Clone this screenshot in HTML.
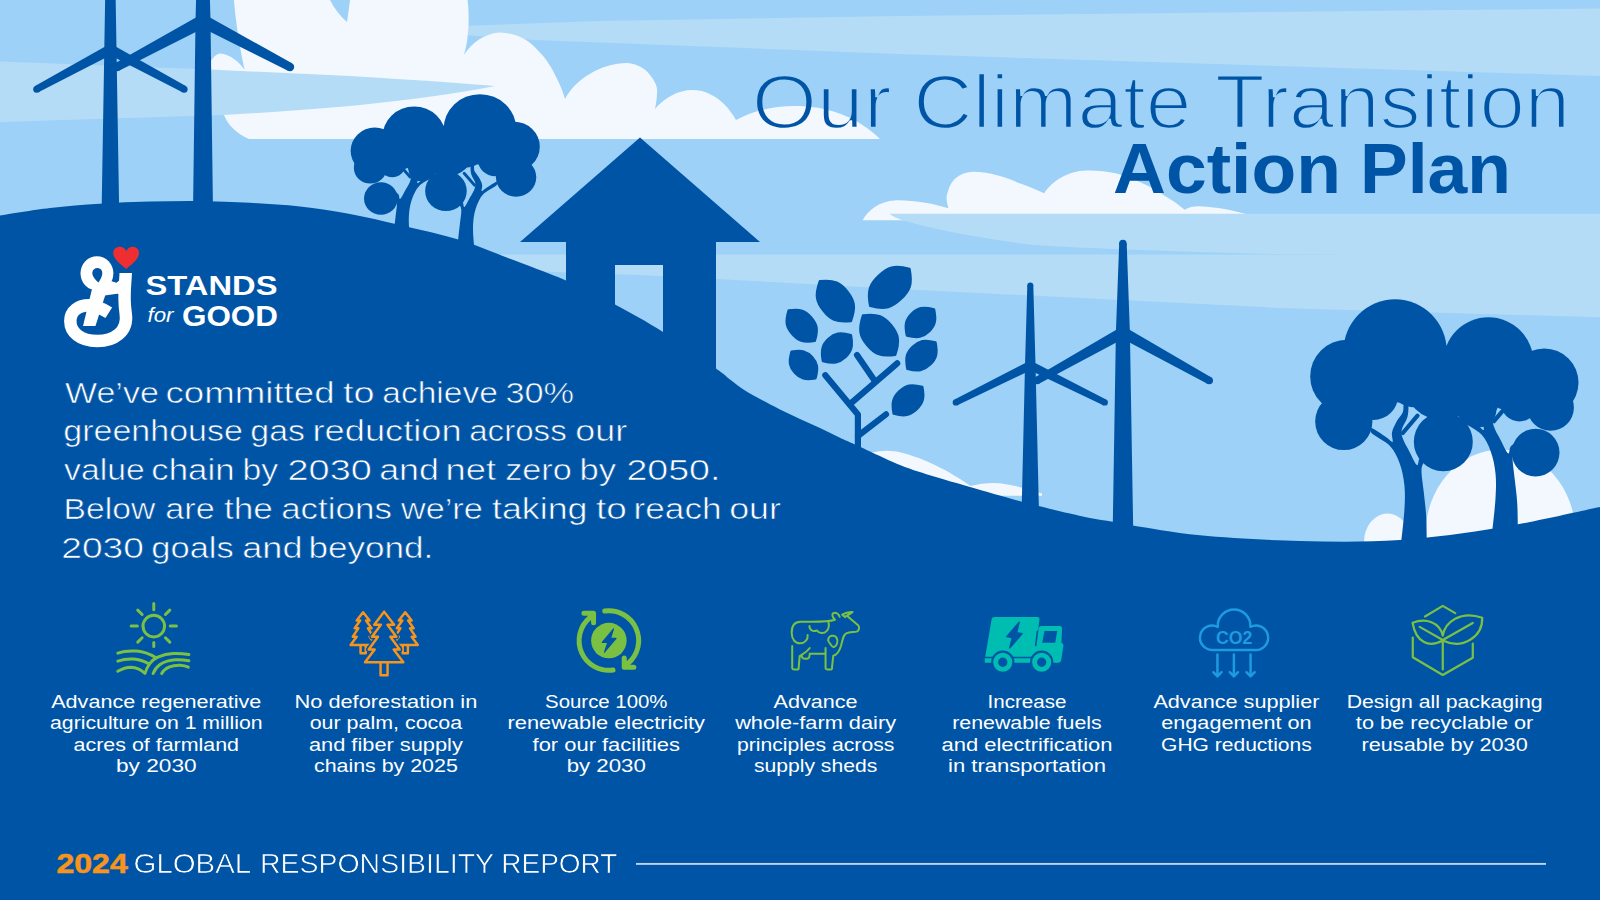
<!DOCTYPE html>
<html lang="en">
<head>
<meta charset="utf-8">
<title>Our Climate Transition Action Plan</title>
<style>
html,body{margin:0;padding:0;background:#0054A6;}
body{width:1600px;height:900px;overflow:hidden;font-family:"Liberation Sans",sans-serif;}
svg{display:block;}
text{font-family:"Liberation Sans",sans-serif;}
</style>
</head>
<body>
<svg width="1600" height="900" viewBox="0 0 1600 900" font-family="'Liberation Sans', sans-serif">
<defs><g id="tree"><circle cx="1395.1" cy="350.9" r="51.6"/><circle cx="1346.9" cy="376.4" r="36.7"/><circle cx="1343.8" cy="421.5" r="28.6"/><circle cx="1488.4" cy="362.4" r="45.1"/><circle cx="1544.3" cy="382.6" r="34.2"/><circle cx="1550.6" cy="407.5" r="23.3"/><circle cx="1443.3" cy="441.7" r="29.5"/><circle cx="1535.6" cy="452.6" r="23.9"/><circle cx="1441.7" cy="382.6" r="37.3"/><circle cx="1373.3" cy="395.1" r="24.9"/><circle cx="1519.5" cy="402.8" r="18.7"/><circle cx="1472.8" cy="404.4" r="18.7"/><circle cx="1510.1" cy="382.6" r="28"/><circle cx="1416.8" cy="373.3" r="34.2"/><circle cx="1479" cy="410" r="17.4"/><path d="M1400.7,547.4 C1401.3,541.2 1403.8,520.5 1404.4,510.1 C1405,499.8 1405.2,493 1404.4,485.2 C1403.6,477.5 1402.1,470 1399.7,463.5 C1397.4,457 1394.8,451.2 1390.4,446.4 C1386,441.6 1376.7,437.4 1373.3,434.6 C1369.9,431.7 1370.2,430.3 1370.2,429.3 C1370.2,428.3 1370.4,427.2 1373.3,428.7 C1376.1,430.1 1384.1,435.8 1387.3,438 C1390.5,440.2 1391.8,442.6 1392.6,441.7 C1393.4,440.8 1391.3,435.8 1392,432.4 C1392.6,429 1394.8,424.9 1396.6,421.5 C1398.4,418.1 1401.6,415 1402.8,412.2 C1404,409.3 1402.9,405.7 1403.8,404.4 C1404.7,403.1 1407.5,402.3 1408.1,404.4 C1408.7,406.5 1408.5,412.7 1407.5,416.8 C1406.5,421 1402.7,425.6 1401.9,429.3 C1401.1,432.9 1401.6,435 1402.8,438.6 C1404,442.2 1406.7,446.6 1409.1,451 C1411.4,455.4 1415.1,463.7 1416.8,465 C1418.5,466.3 1418.2,460.4 1419.3,458.8 C1420.5,457.3 1422.8,455.4 1423.7,455.7 C1424.6,456 1425,458 1424.6,460.4 C1424.2,462.7 1421.7,464.5 1421.5,469.7 C1421.3,474.9 1422.9,483.7 1423.7,491.5 C1424.5,499.2 1425.6,507 1426.2,516.3 C1426.7,525.7 1426.7,542.3 1426.8,547.4 Z"/><path d="M1491.8,535.6 C1492.4,529.4 1494.9,508.7 1495.5,498.3 C1496.1,487.9 1496.3,481.2 1495.5,473.4 C1494.7,465.7 1493.2,458.1 1490.8,451.7 C1488.5,445.2 1485.9,439.4 1481.5,434.6 C1477.1,429.7 1467.8,425.6 1464.4,422.7 C1461,419.9 1461.3,418.4 1461.3,417.5 C1461.3,416.5 1461.6,415.4 1464.4,416.8 C1467.3,418.3 1475.2,424 1478.4,426.2 C1481.6,428.3 1482.9,430.8 1483.7,429.9 C1484.5,429 1482.4,423.9 1483.1,420.6 C1483.7,417.2 1485.9,413 1487.7,409.7 C1489.6,406.3 1492.8,403.2 1494,400.4 C1495.1,397.5 1494,393.9 1494.9,392.6 C1495.8,391.3 1498.6,390.5 1499.2,392.6 C1499.9,394.6 1499.7,400.9 1498.6,405 C1497.6,409.2 1493.8,413.8 1493,417.5 C1492.2,421.1 1492.8,423.2 1494,426.8 C1495.1,430.4 1497.8,434.8 1500.2,439.2 C1502.5,443.6 1506.2,451.9 1508,453.2 C1509.7,454.5 1509.3,448.6 1510.4,447 C1511.6,445.4 1513.9,443.6 1514.8,443.9 C1515.7,444.1 1516.1,446.2 1515.7,448.6 C1515.4,450.9 1512.8,452.7 1512.6,457.9 C1512.5,463.1 1514,471.9 1514.8,479.7 C1515.6,487.4 1516.8,495.2 1517.3,504.5 C1517.8,513.9 1517.8,530.4 1517.9,535.6 Z"/><path d="M1402.8,433 L1417.5,415.6" stroke="#0054A6" stroke-width="4.2" stroke-linecap="round"/><path d="M1494,421.2 L1508.6,403.8" stroke="#0054A6" stroke-width="4.2" stroke-linecap="round"/></g>
<mask id="thin" maskUnits="userSpaceOnUse" x="700" y="40" width="900" height="120"><text x="751.8" y="128" font-size="75.4" textLength="139.8" lengthAdjust="spacingAndGlyphs" fill="#fff" stroke="#000" stroke-width="2.5">Our</text><text x="913.3" y="128" font-size="75.4" textLength="278.2" lengthAdjust="spacingAndGlyphs" fill="#fff" stroke="#000" stroke-width="2.5">Climate</text><text x="1215" y="128" font-size="75.4" textLength="355.2" lengthAdjust="spacingAndGlyphs" fill="#fff" stroke="#000" stroke-width="2.5">Transition</text></mask>
<mask id="thin2" maskUnits="userSpaceOnUse" x="100" y="840" width="560" height="50"><text x="133.6" y="872.6" font-size="27.6" textLength="117.5" lengthAdjust="spacingAndGlyphs" fill="#fff" stroke="#000" stroke-width="0.45">GLOBAL</text><text x="260" y="872.6" font-size="27.6" textLength="234" lengthAdjust="spacingAndGlyphs" fill="#fff" stroke="#000" stroke-width="0.45">RESPONSIBILITY</text><text x="501.3" y="872.6" font-size="27.6" textLength="116" lengthAdjust="spacingAndGlyphs" fill="#fff" stroke="#000" stroke-width="0.45">REPORT</text></mask>
</defs>
<rect width="1600" height="900" fill="#9DD1F7"/>
<path fill="#B4DCF7" d="M462,26 L600,21 L900,16 L1600,8.4 L1600,76 L900,54 L600,42.5 L535,40 L462,35 Z"/>
<path fill="#F2F8FE" d="M249,139 C236,133 228,125 224,115 C216,100 210,85 208,70 C210,60 215,54 220,53.5 C230,54 239,62 244.8,69.8 C241,55 236,25 233.9,0 L330,0 C334,8 340,16 347,22 C348,15 349,8 350,0 L467.5,0 C469,10 470,35 464,55 C472,42 486,33 500,32.5 C516,33 529,40 537.5,50 C546,58 553,70 555,75 C560,84 563,92 565,99 C575,80 600,63 627.5,63 C637,64 645,68 650,75 C655,81 658,88 657,92.5 C657,98 656,104 655,109 C664,98 678,90 692.5,90 C705,90 716,96 725,105 C729,109 733,115 736,120 C752,111 775,105 800,106 C825,107 846,114 862.5,125 C869,129 875,134 880,139 Z"/>
<path fill="#B4DCF7" d="M0,61.5 L210,69.5 L350,76 Q450,82 495,86 Q440,97 350,106 Q280,112 224,115 L0,122 Z"/>
<path fill="#F2F8FE" d="M862.6,220.3 C868,210 880,201 894.6,200.4 C915,200 934,204 948.4,208.3 C946,200 946,196 948.4,190 C951,180 960,172 973.4,171.8 C990,172 1005,177 1018,182.8 C1028,186 1037,190 1044.2,193.3 C1052,181 1068,171 1086.2,170.5 C1106,170 1124,174 1138.7,181.5 C1149,186 1158,191 1165,196 C1172,200 1179,205 1184.6,209.8 C1189,207 1195,206 1201.7,206.4 C1217,207 1232,210 1245,213.8 L1245,220.3 Z"/>
<path fill="#B4DCF7" d="M889.4,213.8 L1600,213.8 L1600,256 L1345,256 L1338,254.5 L1270,253.9 Q1112,250 1033.7,245 Q955,235.3 902.5,220.3 Q893,217 889.4,213.8 Z"/>
<path fill="#B4DCF7" d="M470,254.5 L1600,254.5 L1600,317.3 L1280,308 L900,289 L716,279 L640,275 L566,272.5 L470,268 Z"/>
<path fill="#F2F8FE" d="M872,452.5 Q884,449.5 895,451.3 C915,455 942,466 970.5,486 Q985,482 1000,483.3 Q1020,486 1042,493.5 L1042,495.75 L992,495.75 L980,500 L872,458 Z"/>
<ellipse cx="1500.5" cy="534.5" rx="75" ry="85" fill="#F2F8FE"/>
<ellipse cx="1387.5" cy="542" rx="23.5" ry="28.5" fill="#F2F8FE"/>
<g fill="#0054A6"><path d="M0,215.5 C8.3,214.2 33.3,210 50,208 C66.7,206 83.3,204.8 100,203.7 C116.7,202.6 133.3,201.9 150,201.5 C166.7,201.1 183.3,200.8 200,201 C216.7,201.2 233.3,201.9 250,202.8 C266.7,203.7 283.3,204.6 300,206.5 C316.7,208.4 333.3,210.9 350,214 C366.7,217.1 381.7,220.7 400,225 C418.3,229.3 442,234.5 460,240 C478,245.5 490.3,251.2 508,258 C525.7,264.8 548.2,272.8 566,280.5 C583.8,288.2 598.8,295.9 615,304.5 C631.2,313.1 646.2,321.3 663,332 C679.8,342.7 704.8,360.6 716,368.5 C727.2,376.4 725.2,375.8 730,379.5 C734.8,383.2 740,387.2 745,390.5 C750,393.8 754.2,395.8 760,399 C765.8,402.2 773.3,406.2 780,409.5 C786.7,412.8 793.3,415.9 800,419 C806.7,422.1 813.3,424.9 820,428 C826.7,431.1 834.2,435.1 840,437.8 C845.8,440.6 845,440 855,444.5 C865,449 886.7,459.6 900,465 C913.3,470.4 923.3,473.1 935,476.8 C946.7,480.5 955.5,482.8 970,487 C984.5,491.2 1010.6,498.6 1022,501.8 C1033.4,505 1030.5,504 1038.5,506 C1046.5,508 1061.4,511.6 1070,513.6 C1078.6,515.6 1082.9,516.6 1090,518 C1097.1,519.4 1105.4,520.5 1112.5,521.8 C1119.6,523 1117.9,523.3 1132.5,525.5 C1147.1,527.7 1172.1,532.6 1200,535.2 C1227.9,537.8 1266.7,540.2 1300,541 C1333.3,541.8 1366.7,542.2 1400,540 C1433.3,537.8 1466.7,533.1 1500,527.6 C1533.3,522.1 1583.3,510.4 1600,507 L1600,900 L0,900 Z"/><polygon points="105.2,-5 115.6,-5 116.5,49.5 119.2,212 101.6,212 104.3,49.5"/><polygon points="107.9,44.9 35,86.1 38.4,92.3 112.9,54.1"/><circle cx="36.7" cy="89.2" r="3.5"/><polygon points="107.9,54.1 182.4,92.3 185.8,86.1 112.9,44.9"/><circle cx="184.1" cy="89.2" r="3.5"/><polygon points="196.2,-5 209.8,-5 210.5,21 213,212 193,212 195.5,21"/><polygon points="199.9,15.3 115,63.3 119,70.7 206.1,26.7"/><circle cx="117" cy="67" r="4.2"/><polygon points="200,26.7 288,70.8 292,63.2 206,15.3"/><circle cx="290" cy="67" r="4.2"/><polygon points="1027.3,285.5 1033.3,285.5 1035.5,365.4 1039,512 1021.6,512 1025,365.4"/><circle cx="1030.3" cy="285.5" r="3"/><polygon points="1028.3,361.4 954.5,399.5 957.3,405.3 1032.3,369.4"/><circle cx="955.9" cy="402.4" r="3.2"/><polygon points="1028.3,369.4 1103.3,405.3 1106.1,399.5 1032.3,361.4"/><circle cx="1104.7" cy="402.4" r="3.2"/><polygon points="1119.2,243.5 1126.7,243.5 1129.9,332.6 1133.2,530 1112.7,530 1115.9,332.6"/><circle cx="1122.9" cy="243.5" r="3.8"/><polygon points="1120.1,327.6 1035.1,377.2 1038.9,383.8 1125.7,337.6"/><circle cx="1037" cy="380.5" r="3.8"/><polygon points="1120.1,337.6 1207.4,383.8 1211,377.2 1125.7,327.6"/><circle cx="1209.2" cy="380.5" r="3.8"/><polygon points="640,137.5 760,242 520,242"/><path fill-rule="evenodd" d="M566,240 H716 V420 H566 Z M615,265 H663 V345 H615 Z"/><g fill="none" stroke="#0054A6" stroke-width="6.2" stroke-linecap="round" stroke-linejoin="round"><path d="M857.9,450 V414.5 L825.3,375.2 M851.4,402.8 L897.2,363.3 M873.6,379.2 L857,355 M857.9,436 L886,414.4"/></g><g stroke="#0054A6" stroke-width="2.4" stroke-linejoin="round"><path d="M819.8,281.3 C814.7,295.5 816.5,301.8 823.4,310.5 C830.2,319.3 835.9,322.6 850.9,321 C856.1,306.7 854.2,300.5 847.4,291.7 C840.5,283 834.8,279.7 819.8,281.3 Z"/><path d="M909.5,268.9 C893.9,264.7 887.6,267.6 878.9,275.7 C870.2,283.8 867,290 870.2,305.9 C885.9,310 892.2,307.2 900.9,299 C909.5,290.9 912.7,284.8 909.5,268.9 Z"/><path d="M788.6,310.5 C785,322.1 786.4,327.3 792.2,334 C798,340.6 802.9,342.7 814.8,340.9 C818.4,329.4 817,324.1 811.2,317.5 C805.4,310.8 800.4,308.7 788.6,310.5 Z"/><path d="M863,315.5 C858.2,330 860,336.4 867.1,345 C874.2,353.7 880.1,356.8 895.2,354.9 C900.1,340.4 898.3,334 891.2,325.3 C884.1,316.7 878.2,313.6 863,315.5 Z"/><path d="M934,309.3 C923,306.6 917.7,307.7 911.8,313.5 C905.8,319.3 904.5,324.5 906.9,335.6 C917.9,338.3 923.2,337.1 929.1,331.4 C935.1,325.6 936.4,320.4 934,309.3 Z"/><path d="M791.5,351.8 C788.6,362.1 789.6,367 794.8,372.8 C800.1,378.6 804.9,380.1 815.5,378.2 C818.4,367.9 817.4,363 812.1,357.1 C806.9,351.3 802,349.9 791.5,351.8 Z"/><path d="M850.9,335.1 C839.9,332.1 834.6,333.3 828.5,339 C822.3,344.7 820.8,349.8 822.9,361.1 C834,364.1 839.2,362.9 845.4,357.2 C851.5,351.5 853.1,346.4 850.9,335.1 Z"/><path d="M935.5,342.4 C924.3,339.5 919.1,340.8 912.9,346.6 C906.7,352.4 905.1,357.5 907.4,368.9 C918.6,371.8 923.8,370.5 930,364.7 C936.2,358.9 937.8,353.8 935.5,342.4 Z"/><path d="M922.3,386.9 C910.9,383.9 905.8,385.3 899.5,391.2 C893.2,397.1 891.4,402.1 893.7,413.7 C905,416.7 910.2,415.3 916.5,409.4 C922.8,403.5 924.6,398.4 922.3,386.9 Z"/></g><use href="#tree"/><use href="#tree" transform="translate(480,128) scale(-0.705,0.68) translate(-1395,-349)"/></g>
<g transform="translate(55,240) scale(0.12449)"><ellipse cx="337" cy="268" rx="132" ry="137" fill="#fff"/><polygon fill="#fff" points="308,350 420,392 325,690 225,690"/><polygon fill="#fff" points="300,380 455,332 493,344 522,322 605,322 602,445 500,432 398,446"/><path fill="none" stroke="#fff" stroke-width="100" stroke-linecap="butt" d="M568,266 C568,330 545,440 568,590 C590,740 470,812 340,812 C200,810 123,740 123,650 C123,570 190,524 275,524 C335,524 385,555 432,585"/><path fill="#0054A6" d="M350,342 C322,320 298,292 300,262 C302,236 322,224 342,225 C366,226 383,246 380,272 C377,300 362,322 350,342 Z"/></g>
<path transform="translate(55,240) scale(0.12449)" fill="#EE2E30" d="M572,232 C520,190 468,150 468,105 C468,75 492,55 520,55 C545,55 565,70 572,90 C580,70 600,55 625,55 C652,55 675,75 675,105 C675,150 625,190 572,232 Z"/>
<g transform="translate(100,590) scale(0.11111)" fill="none" stroke="#7AC143" stroke-width="27" stroke-linecap="round" stroke-linejoin="round"><circle cx="484" cy="325" r="97"/><path d="M484,177 L484,121 M588.7,220.3 L628.2,180.8 M632,325 L688,325 M588.7,429.7 L628.2,469.2 M484,473 L484,509 M379.3,429.7 L339.8,469.2 M336,325 L280,325 M379.3,220.3 L339.8,180.8"/><path d="M160,568 C215,548 270,545 330,550 C395,556 455,580 505,610 M160,640 C205,625 255,620 300,622 C350,625 400,642 440,665 M160,732 C200,708 240,695 280,695 C325,696 370,718 405,750 C415,715 430,685 450,660 C470,635 492,618 520,605 C565,585 610,574 660,572 C710,570 760,574 800,580 M478,752 C490,718 512,690 540,670 C580,645 630,630 680,628 C722,627 765,630 800,637 M555,752 C570,725 592,707 620,695 C652,682 688,677 720,678 C748,680 775,686 795,695"/></g>
<g transform="translate(330,590) scale(0.11111)" fill="none" stroke="#F7941E" stroke-width="22" stroke-linejoin="round" stroke-linecap="round"><path d="M298,200 L240,275 L272,275 L222,345 L255,345 L205,420 L240,420 L185,495 L411,495 L356,420 L391,420 L341,345 L374,345 L324,275 L356,275 Z M275,495 V570 H322 V495"/><path transform="translate(379,0)" d="M298,200 L240,275 L272,275 L222,345 L255,345 L205,420 L240,420 L185,495 L411,495 L356,420 L391,420 L341,345 L374,345 L324,275 L356,275 Z M275,495 V570 H322 V495"/><path d="M487,195 L398,312 L458,312 L378,420 L432,420 L348,535 L402,535 L315,650 L660,650 L573,535 L627,535 L543,420 L597,420 L517,312 L577,312 Z" fill="#0054A6" stroke="#0054A6" stroke-width="48"/><path d="M487,195 L398,312 L458,312 L378,420 L432,420 L348,535 L402,535 L315,650 L660,650 L573,535 L627,535 L543,420 L597,420 L517,312 L577,312 Z M455,650 V768 H518 V650"/></g>
<g transform="translate(550,590) scale(0.11111)"><path fill="none" stroke="#7AC143" stroke-width="45" stroke-linecap="round" stroke-linejoin="round" d="M492.7,189.6 A268,268 0 0 1 702.3,660.3 M668,612 V695 H755 M567.3,720.4 A268,268 0 0 1 357.7,249.7 M305,210 H392 V295"/><circle cx="530" cy="455" r="160" fill="#7AC143"/><path fill="#0054A6" stroke="#0054A6" stroke-width="10" stroke-linejoin="round" d="M572,350 L470,472 L520,472 L490,560 L595,435 L545,435 Z"/></g>
<g transform="translate(765,590) scale(0.11111)" fill="none" stroke="#7AC143" stroke-width="18" stroke-linecap="round" stroke-linejoin="round"><path d="M630,268 C560,292 420,285 320,285 C262,285 240,330 240,385 C240,440 270,480 315,480 C358,480 388,445 384,405 M245,505 V705 Q248,716 262,716 H292 Q306,714 303,698 L312,595 C330,580 372,565 403,522 M330,592 C332,612 348,624 368,618 C388,622 402,610 402,580 M402,574 H545 M545,522 V705 Q548,716 562,716 H592 Q606,714 603,698 L614,592 C650,585 672,545 685,500 C700,440 705,400 735,388 C770,378 805,380 830,372 C850,360 852,330 838,318 L745,238 M630,268 C612,250 598,222 612,210 C635,198 665,210 672,242 M695,222 C730,200 760,195 788,198 C770,215 745,228 720,240 M700,228 L722,245 M400,325 C400,362 430,378 468,365 C485,392 530,398 556,368 C575,345 578,318 572,292 M600,412 C640,405 660,440 648,482 C640,512 612,522 598,500 C590,485 580,478 572,462 C562,440 575,418 600,412 Z"/></g>
<g transform="translate(965,590) scale(0.11111)"><path fill="#00BDB2" d="M265,243 H655 Q672,243 670,260 L642,500 L662,350 Q665,325 690,325 H850 Q875,325 873,350 L868,478 Q888,482 886,500 L866,630 Q862,655 838,655 H178 V615 L182,600 L240,260 Q243,243 265,243 Z"/><path fill="none" stroke="#0054A6" stroke-width="14" stroke-linecap="round" d="M652,372 L636,500"/><path fill="none" stroke="#0054A6" stroke-width="14" d="M170,608 H640"/><circle cx="340" cy="650" r="105" fill="#0054A6"/><circle cx="690" cy="650" r="105" fill="#0054A6"/><circle cx="340" cy="650" r="64" fill="none" stroke="#00BDB2" stroke-width="44"/><circle cx="690" cy="650" r="64" fill="none" stroke="#00BDB2" stroke-width="44"/><polygon fill="#0054A6" points="715,370 830,370 812,475 695,475"/><path fill="#0054A6" stroke="#0054A6" stroke-width="12" stroke-linejoin="round" d="M488,290 L375,420 L425,428 L402,522 L515,392 L465,384 Z"/></g>
<g transform="translate(1175,590) scale(0.11111)" fill="none" stroke="#1E9BE0" stroke-width="22" stroke-linecap="round" stroke-linejoin="round"><path d="M335,540 A110,110 0 1 1 385,332 A146.8,146.8 0 1 1 678,332 A110,110 0 1 1 727,540 Z"/><path d="M382,580 V775 M345,740 L382,778 L419,740 M530,580 V775 M493,740 L530,778 L567,740 M680,580 V775 M643,740 L680,778 L717,740"/></g>
<text x="1234.2" y="643.6" text-anchor="middle" font-weight="bold" font-size="17.6" fill="#1E9BE0" textLength="36.5" lengthAdjust="spacingAndGlyphs">CO2</text>
<g transform="translate(1385,590) scale(0.11111)" fill="none" stroke="#7AC143" stroke-width="20" stroke-linecap="round" stroke-linejoin="round"><path d="M360,238 L520,143 L632,208 M250,428 V605 L520,765 L790,610 V482 M520,715 V450 M520,455 C400,520 280,480 248,295 C370,250 490,290 520,410 C540,290 680,180 875,250 C880,420 700,540 520,455 M312,332 L520,450 L790,297"/></g>
<text x="751.8" y="128" font-size="75.4" textLength="139.8" lengthAdjust="spacingAndGlyphs" fill="#0054A6" mask="url(#thin)">Our</text>
<text x="913.3" y="128" font-size="75.4" textLength="278.2" lengthAdjust="spacingAndGlyphs" fill="#0054A6" mask="url(#thin)">Climate</text>
<text x="1215" y="128" font-size="75.4" textLength="355.2" lengthAdjust="spacingAndGlyphs" fill="#0054A6" mask="url(#thin)">Transition</text>
<text x="1113" y="193" font-size="69.8" textLength="228" lengthAdjust="spacingAndGlyphs" font-weight="bold" fill="#0054A6">Action</text>
<text x="1360" y="193" font-size="69.8" textLength="151" lengthAdjust="spacingAndGlyphs" font-weight="bold" fill="#0054A6">Plan</text>
<text x="145.5" y="294.7" font-size="28.3" textLength="132" lengthAdjust="spacingAndGlyphs" font-weight="bold" fill="#fff">STANDS</text>
<text x="182" y="325.8" font-size="29" textLength="96" lengthAdjust="spacingAndGlyphs" font-weight="bold" fill="#fff">GOOD</text>
<text x="147.5" y="322" font-size="20.7" textLength="26" lengthAdjust="spacingAndGlyphs" font-style="italic" fill="#fff">for</text>
<text x="65" y="402.5" font-size="29.8" textLength="93.8" lengthAdjust="spacingAndGlyphs" fill="#fff" stroke="#0054A6" stroke-width="0.6">We’ve</text>
<text x="165.4" y="402.5" font-size="29.8" textLength="169.2" lengthAdjust="spacingAndGlyphs" fill="#fff" stroke="#0054A6" stroke-width="0.6">committed</text>
<text x="343.1" y="402.5" font-size="29.8" textLength="31.6" lengthAdjust="spacingAndGlyphs" fill="#fff" stroke="#0054A6" stroke-width="0.6">to</text>
<text x="382.3" y="402.5" font-size="29.8" textLength="115.5" lengthAdjust="spacingAndGlyphs" fill="#fff" stroke="#0054A6" stroke-width="0.6">achieve</text>
<text x="505.4" y="402.5" font-size="29.8" textLength="68.7" lengthAdjust="spacingAndGlyphs" fill="#fff" stroke="#0054A6" stroke-width="0.6">30%</text>
<text x="63.3" y="441.2" font-size="29.8" textLength="179.6" lengthAdjust="spacingAndGlyphs" fill="#fff" stroke="#0054A6" stroke-width="0.6">greenhouse</text>
<text x="250.3" y="441.2" font-size="29.8" textLength="54.6" lengthAdjust="spacingAndGlyphs" fill="#fff" stroke="#0054A6" stroke-width="0.6">gas</text>
<text x="312.5" y="441.2" font-size="29.8" textLength="149.1" lengthAdjust="spacingAndGlyphs" fill="#fff" stroke="#0054A6" stroke-width="0.6">reduction</text>
<text x="469.2" y="441.2" font-size="29.8" textLength="97.5" lengthAdjust="spacingAndGlyphs" fill="#fff" stroke="#0054A6" stroke-width="0.6">across</text>
<text x="575.3" y="441.2" font-size="29.8" textLength="51.8" lengthAdjust="spacingAndGlyphs" fill="#fff" stroke="#0054A6" stroke-width="0.6">our</text>
<text x="64.1" y="480" font-size="29.8" textLength="80.6" lengthAdjust="spacingAndGlyphs" fill="#fff" stroke="#0054A6" stroke-width="0.6">value</text>
<text x="151.3" y="480" font-size="29.8" textLength="83.3" lengthAdjust="spacingAndGlyphs" fill="#fff" stroke="#0054A6" stroke-width="0.6">chain</text>
<text x="242.5" y="480" font-size="29.8" textLength="35.6" lengthAdjust="spacingAndGlyphs" fill="#fff" stroke="#0054A6" stroke-width="0.6">by</text>
<text x="287.5" y="480" font-size="29.8" textLength="84.3" lengthAdjust="spacingAndGlyphs" fill="#fff" stroke="#0054A6" stroke-width="0.6">2030</text>
<text x="379.2" y="480" font-size="29.8" textLength="59.8" lengthAdjust="spacingAndGlyphs" fill="#fff" stroke="#0054A6" stroke-width="0.6">and</text>
<text x="445.6" y="480" font-size="29.8" textLength="50.5" lengthAdjust="spacingAndGlyphs" fill="#fff" stroke="#0054A6" stroke-width="0.6">net</text>
<text x="505.2" y="480" font-size="29.8" textLength="66.6" lengthAdjust="spacingAndGlyphs" fill="#fff" stroke="#0054A6" stroke-width="0.6">zero</text>
<text x="579.5" y="480" font-size="29.8" textLength="36.5" lengthAdjust="spacingAndGlyphs" fill="#fff" stroke="#0054A6" stroke-width="0.6">by</text>
<text x="626.4" y="480" font-size="29.8" textLength="94" lengthAdjust="spacingAndGlyphs" fill="#fff" stroke="#0054A6" stroke-width="0.6">2050.</text>
<text x="63.6" y="518.8" font-size="29.8" textLength="91.6" lengthAdjust="spacingAndGlyphs" fill="#fff" stroke="#0054A6" stroke-width="0.6">Below</text>
<text x="165.3" y="518.8" font-size="29.8" textLength="49.4" lengthAdjust="spacingAndGlyphs" fill="#fff" stroke="#0054A6" stroke-width="0.6">are</text>
<text x="224" y="518.8" font-size="29.8" textLength="48.9" lengthAdjust="spacingAndGlyphs" fill="#fff" stroke="#0054A6" stroke-width="0.6">the</text>
<text x="281.2" y="518.8" font-size="29.8" textLength="110.7" lengthAdjust="spacingAndGlyphs" fill="#fff" stroke="#0054A6" stroke-width="0.6">actions</text>
<text x="401" y="518.8" font-size="29.8" textLength="81.8" lengthAdjust="spacingAndGlyphs" fill="#fff" stroke="#0054A6" stroke-width="0.6">we’re</text>
<text x="492" y="518.8" font-size="29.8" textLength="95.5" lengthAdjust="spacingAndGlyphs" fill="#fff" stroke="#0054A6" stroke-width="0.6">taking</text>
<text x="596" y="518.8" font-size="29.8" textLength="30.8" lengthAdjust="spacingAndGlyphs" fill="#fff" stroke="#0054A6" stroke-width="0.6">to</text>
<text x="633.6" y="518.8" font-size="29.8" textLength="88" lengthAdjust="spacingAndGlyphs" fill="#fff" stroke="#0054A6" stroke-width="0.6">reach</text>
<text x="729.2" y="518.8" font-size="29.8" textLength="51.8" lengthAdjust="spacingAndGlyphs" fill="#fff" stroke="#0054A6" stroke-width="0.6">our</text>
<text x="61.3" y="557.5" font-size="29.8" textLength="82.6" lengthAdjust="spacingAndGlyphs" fill="#fff" stroke="#0054A6" stroke-width="0.6">2030</text>
<text x="151.3" y="557.5" font-size="29.8" textLength="82.5" lengthAdjust="spacingAndGlyphs" fill="#fff" stroke="#0054A6" stroke-width="0.6">goals</text>
<text x="242.3" y="557.5" font-size="29.8" textLength="60.2" lengthAdjust="spacingAndGlyphs" fill="#fff" stroke="#0054A6" stroke-width="0.6">and</text>
<text x="308.4" y="557.5" font-size="29.8" textLength="125" lengthAdjust="spacingAndGlyphs" fill="#fff" stroke="#0054A6" stroke-width="0.6">beyond.</text>
<text x="156.3" y="707.6" font-size="18.9" textLength="210.2" lengthAdjust="spacingAndGlyphs" text-anchor="middle" fill="#fff">Advance regenerative</text>
<text x="156.3" y="729.1" font-size="18.9" textLength="212.5" lengthAdjust="spacingAndGlyphs" text-anchor="middle" fill="#fff">agriculture on 1 million</text>
<text x="156.3" y="750.6" font-size="18.9" textLength="165.4" lengthAdjust="spacingAndGlyphs" text-anchor="middle" fill="#fff">acres of farmland</text>
<text x="156.3" y="771.6" font-size="18.9" textLength="80.6" lengthAdjust="spacingAndGlyphs" text-anchor="middle" fill="#fff">by 2030</text>
<text x="385.9" y="707.6" font-size="18.9" textLength="182.7" lengthAdjust="spacingAndGlyphs" text-anchor="middle" fill="#fff">No deforestation in</text>
<text x="385.9" y="729.1" font-size="18.9" textLength="152.4" lengthAdjust="spacingAndGlyphs" text-anchor="middle" fill="#fff">our palm, cocoa</text>
<text x="385.9" y="750.6" font-size="18.9" textLength="153.9" lengthAdjust="spacingAndGlyphs" text-anchor="middle" fill="#fff">and fiber supply</text>
<text x="385.9" y="771.6" font-size="18.9" textLength="143.8" lengthAdjust="spacingAndGlyphs" text-anchor="middle" fill="#fff">chains by 2025</text>
<text x="606.3" y="707.6" font-size="18.9" textLength="122.4" lengthAdjust="spacingAndGlyphs" text-anchor="middle" fill="#fff">Source 100%</text>
<text x="606.3" y="729.1" font-size="18.9" textLength="197.4" lengthAdjust="spacingAndGlyphs" text-anchor="middle" fill="#fff">renewable electricity</text>
<text x="606.3" y="750.6" font-size="18.9" textLength="147.4" lengthAdjust="spacingAndGlyphs" text-anchor="middle" fill="#fff">for our facilities</text>
<text x="606.3" y="771.6" font-size="18.9" textLength="79.2" lengthAdjust="spacingAndGlyphs" text-anchor="middle" fill="#fff">by 2030</text>
<text x="815.6" y="707.6" font-size="18.9" textLength="84" lengthAdjust="spacingAndGlyphs" text-anchor="middle" fill="#fff">Advance</text>
<text x="815.6" y="729.1" font-size="18.9" textLength="160.9" lengthAdjust="spacingAndGlyphs" text-anchor="middle" fill="#fff">whole-farm dairy</text>
<text x="815.6" y="750.6" font-size="18.9" textLength="157.4" lengthAdjust="spacingAndGlyphs" text-anchor="middle" fill="#fff">principles across</text>
<text x="815.6" y="771.6" font-size="18.9" textLength="123.3" lengthAdjust="spacingAndGlyphs" text-anchor="middle" fill="#fff">supply sheds</text>
<text x="1027" y="707.6" font-size="18.9" textLength="78.9" lengthAdjust="spacingAndGlyphs" text-anchor="middle" fill="#fff">Increase</text>
<text x="1027" y="729.1" font-size="18.9" textLength="149.6" lengthAdjust="spacingAndGlyphs" text-anchor="middle" fill="#fff">renewable fuels</text>
<text x="1027" y="750.6" font-size="18.9" textLength="171.1" lengthAdjust="spacingAndGlyphs" text-anchor="middle" fill="#fff">and electrification</text>
<text x="1027" y="771.6" font-size="18.9" textLength="157.9" lengthAdjust="spacingAndGlyphs" text-anchor="middle" fill="#fff">in transportation</text>
<text x="1236.4" y="707.6" font-size="18.9" textLength="166" lengthAdjust="spacingAndGlyphs" text-anchor="middle" fill="#fff">Advance supplier</text>
<text x="1236.4" y="729.1" font-size="18.9" textLength="150.1" lengthAdjust="spacingAndGlyphs" text-anchor="middle" fill="#fff">engagement on</text>
<text x="1236.4" y="750.6" font-size="18.9" textLength="150.6" lengthAdjust="spacingAndGlyphs" text-anchor="middle" fill="#fff">GHG reductions</text>
<text x="1444.6" y="707.6" font-size="18.9" textLength="195.8" lengthAdjust="spacingAndGlyphs" text-anchor="middle" fill="#fff">Design all packaging</text>
<text x="1444.6" y="729.1" font-size="18.9" textLength="177.5" lengthAdjust="spacingAndGlyphs" text-anchor="middle" fill="#fff">to be recyclable or</text>
<text x="1444.6" y="750.6" font-size="18.9" textLength="166.2" lengthAdjust="spacingAndGlyphs" text-anchor="middle" fill="#fff">reusable by 2030</text>
<text x="56.4" y="872.6" font-size="27.6" textLength="71.4" lengthAdjust="spacingAndGlyphs" font-weight="bold" fill="#F7941E" stroke="#F7941E" stroke-width="0.5">2024</text>
<text x="133.6" y="872.6" font-size="27.6" textLength="117.5" lengthAdjust="spacingAndGlyphs" fill="#fff" mask="url(#thin2)">GLOBAL</text>
<text x="260" y="872.6" font-size="27.6" textLength="234" lengthAdjust="spacingAndGlyphs" fill="#fff" mask="url(#thin2)">RESPONSIBILITY</text>
<text x="501.3" y="872.6" font-size="27.6" textLength="116" lengthAdjust="spacingAndGlyphs" fill="#fff" mask="url(#thin2)">REPORT</text>
<rect x="636" y="862.95" width="910" height="1.9" fill="#BED4EC"/>
</svg>
</body>
</html>
